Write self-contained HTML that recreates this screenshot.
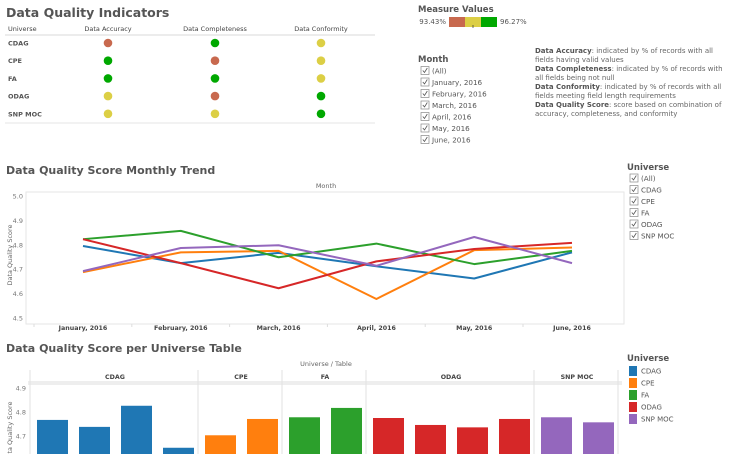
<!DOCTYPE html>
<html><head><meta charset="utf-8">
<style>
body{margin:0;background:#fff;width:736px;height:454px;overflow:hidden;font-family:"Liberation Sans","DejaVu Sans",sans-serif}
svg text{font-family:"DejaVu Sans","Liberation Sans",sans-serif}
</style></head>
<body>
<svg id="s" width="736" height="454" xmlns="http://www.w3.org/2000/svg">
<g>
<text x="6" y="17" font-size="12.5" font-weight="bold" fill="#555">Data Quality Indicators</text>
<g font-size="6.5" fill="#444">
<text x="8" y="31">Universe</text>
<text x="108" y="31" text-anchor="middle">Data Accuracy</text>
<text x="215" y="31" text-anchor="middle">Data Completeness</text>
<text x="321" y="31" text-anchor="middle">Data Conformity</text>
</g>
<line x1="5" y1="35" x2="375" y2="35" stroke="#e6e6e6" stroke-width="1.5"/>
<line x1="5" y1="123" x2="375" y2="123" stroke="#e6e6e6" stroke-width="1"/>
<g id="ind"></g>
</g>
<g>
<text x="418" y="12" font-size="8.5" font-weight="bold" fill="#555">Measure Values</text>
<text x="446" y="24" font-size="7" fill="#555" text-anchor="end">93.43%</text>
<rect x="449" y="17" width="16" height="10" fill="#c8694e"/>
<rect x="465" y="17" width="16" height="10" fill="#dccf45"/>
<rect x="481" y="17" width="16" height="10" fill="#00a800"/>
<line x1="473" y1="25" x2="473" y2="28" stroke="#333" stroke-width="0.7"/>
<text x="500" y="24" font-size="7" fill="#555">96.27%</text>
</g>
<g>
<text x="418" y="62" font-size="8.5" font-weight="bold" fill="#555">Month</text>
<g id="monthItems"></g>
</g>
<g font-size="7" fill="#666">
<text x="535" y="53"><tspan font-weight="bold" fill="#555">Data Accuracy</tspan>: indicated by % of records with all</text>
<text x="535" y="62">fields having valid values</text>
<text x="535" y="71"><tspan font-weight="bold" fill="#555">Data Completeness</tspan>: indicated by % of records with</text>
<text x="535" y="80">all fields being not null</text>
<text x="535" y="89"><tspan font-weight="bold" fill="#555">Data Conformity</tspan>: indicated by % of records with all</text>
<text x="535" y="98">fields meeting field length requirements</text>
<text x="535" y="107"><tspan font-weight="bold" fill="#555">Data Quality Score</tspan>: score based on combination of</text>
<text x="535" y="116">accuracy, completeness, and conformity</text>
</g>
<g>
<text x="6" y="174" font-size="11" font-weight="bold" fill="#555">Data Quality Score Monthly Trend</text>
<text x="326" y="188" font-size="6.5" fill="#666" text-anchor="middle">Month</text>
<text transform="translate(12,255) rotate(-90)" font-size="6.5" fill="#666" text-anchor="middle">Data Quality Score</text>
<rect x="26" y="192" width="598" height="132" fill="none" stroke="#e6e6e6"/>
<g id="trend"></g>
</g>
<g>
<text x="627" y="170" font-size="8.5" font-weight="bold" fill="#555">Universe</text>
<g id="uniItems"></g>
</g>
<g>
<text x="6" y="352" font-size="11" font-weight="bold" fill="#555">Data Quality Score per Universe Table</text>
<text x="326" y="366" font-size="6.5" fill="#666" text-anchor="middle">Universe  /  Table</text>
<text transform="translate(12,432) rotate(-90)" font-size="6.5" fill="#666" text-anchor="middle">Data Quality Score</text>
<rect x="28" y="381" width="594" height="4" fill="#eee"/>
<g id="bars"></g>
</g>
<g>
<text x="627" y="361" font-size="8.5" font-weight="bold" fill="#555">Universe</text>
<g id="barLeg"></g>
</g>
</svg>
<script>
const NS="http://www.w3.org/2000/svg";
function mk(tag,attrs,parent,txt){const e=document.createElementNS(NS,tag);for(const k in attrs)e.setAttribute(k,attrs[k]);if(txt!=null)e.textContent=txt;parent.appendChild(e);return e;}
const universes=["CDAG","CPE","FA","ODAG","SNP MOC"];
const colors=["#1f77b4","#ff7f0e","#2ca02c","#d62728","#9467bd"];
// indicator levels: 0 red,1 yellow,2 green
const accuracy=[0,2,2,1,1];
const completeness=[2,0,2,0,1];
const conformity=[1,1,1,2,2];
const lvlCol=["#c8694e","#dccf45","#00a800"];
const ind=document.getElementById('ind');
universes.forEach((u,i)=>{const y=43+i*17.7;
 const t=mk('text',{x:8,y:y+2.5,'font-size':6.5,'font-weight':'bold',fill:'#555'},ind,u);
 
 
 [[accuracy,108],[completeness,215],[conformity,321]].forEach(([arr,x])=>{
  const c=mk('circle',{cx:x,cy:y,r:4.3,fill:lvlCol[arr[i]]},ind);
  
  
 });
});
function checklist(parent,x,y0,step,items,prefix){
 items.forEach((it,i)=>{const y=y0+i*step;
  const g=mk('g',{},parent);
  
  
  mk('rect',{x:x,y:y-4,width:8,height:8,fill:'#fff',stroke:'#888','stroke-width':0.7},g);
  mk('path',{d:`M${x+1.8} ${y} L${x+3.5} ${y+2} L${x+6.3} ${y-2.5}`,fill:'none',stroke:'#555','stroke-width':0.8},g);
  mk('text',{x:x+11,y:y+2.8,'font-size':7.2,fill:'#555'},g,it);
 });
}
const months=["January, 2016","February, 2016","March, 2016","April, 2016","May, 2016","June, 2016"];
checklist(document.getElementById('monthItems'),421,70.5,11.5,["(All)"].concat(months),'month-filter');
checklist(document.getElementById('uniItems'),630,178,11.5,["(All)"].concat(universes),'universe-filter');
// trend data
const trendBlue=[4.795,4.725,4.767,4.712,4.662,4.769];
const trendOrange=[4.688,4.769,4.775,4.578,4.778,4.789];
const trendGreen=[4.823,4.857,4.749,4.805,4.721,4.775];
const trendRed=[4.823,4.725,4.622,4.732,4.783,4.808];
const trendPurple=[4.692,4.787,4.798,4.714,4.832,4.725];
const yTicks=[4.5,4.6,4.7,4.8,4.9,5.0];
const tx=i=>83+i*97.8;
const ty=v=>318-(v-4.5)/0.5*122;
const tr=document.getElementById('trend');
yTicks.forEach(v=>{const t=mk('text',{x:23,y:ty(v)+2.5,'font-size':6.5,fill:'#777','text-anchor':'end'},tr,v.toFixed(1));
 });
months.forEach((m,i)=>{const t=mk('text',{x:tx(i),y:330,'font-size':6.3,'font-weight':'bold',fill:'#444','text-anchor':'middle'},tr,m);
 
 mk('line',{x1:tx(i)-49,y1:324,x2:tx(i)-49,y2:327,stroke:'#ddd'},tr);});
[trendBlue,trendOrange,trendGreen,trendRed,trendPurple].forEach((s,k)=>{
 const p=mk('polyline',{points:s.map((v,i)=>tx(i)+','+ty(v)).join(' '),fill:'none',stroke:colors[k],'stroke-width':2,'stroke-linejoin':'round'},tr);
 
 
});
// bar data
const barUniverse=[0,0,0,0,1,1,2,2,3,3,3,3,4,4];
const barValues=[4.767,4.738,4.826,4.651,4.703,4.771,4.778,4.817,4.775,4.746,4.736,4.771,4.778,4.757];
const barTicks=[4.7,4.8,4.9];
const by=v=>388-(v-4.9)/0.1*24;
const bs=document.getElementById('bars');
barTicks.forEach(v=>{const t=mk('text',{x:26,y:by(v)+2.5,'font-size':6.5,fill:'#777','text-anchor':'end'},bs,v.toFixed(1));
 });
mk('line',{x1:30,y1:370,x2:30,y2:454,stroke:'#e2e2e2'},bs);
let start=0;
universes.forEach((u,k)=>{const n=barUniverse.filter(x=>x===k).length;
 const x0=31+start*42, x1=31+(start+n)*42;
 const t=mk('text',{x:(x0+x1)/2,y:379,'font-size':6.3,'font-weight':'bold',fill:'#444','text-anchor':'middle'},bs,u);
 
 mk('line',{x1:x1-1,y1:370,x2:x1-1,y2:454,stroke:'#e2e2e2'},bs);
 start+=n;});
barValues.forEach((v,i)=>{const r=mk('rect',{x:37+i*42,y:by(v),width:31,height:454-by(v)+2,fill:colors[barUniverse[i]]},bs);
 });
const bl=document.getElementById('barLeg');
universes.forEach((u,k)=>{const y=371+k*12;const g=mk('g',{},bl);
 
 mk('rect',{x:629,y:y-5,width:8,height:10,fill:colors[k]},g);
 mk('text',{x:641,y:y+2.5,'font-size':7,fill:'#555'},g,u);});
</script>
</body></html>
